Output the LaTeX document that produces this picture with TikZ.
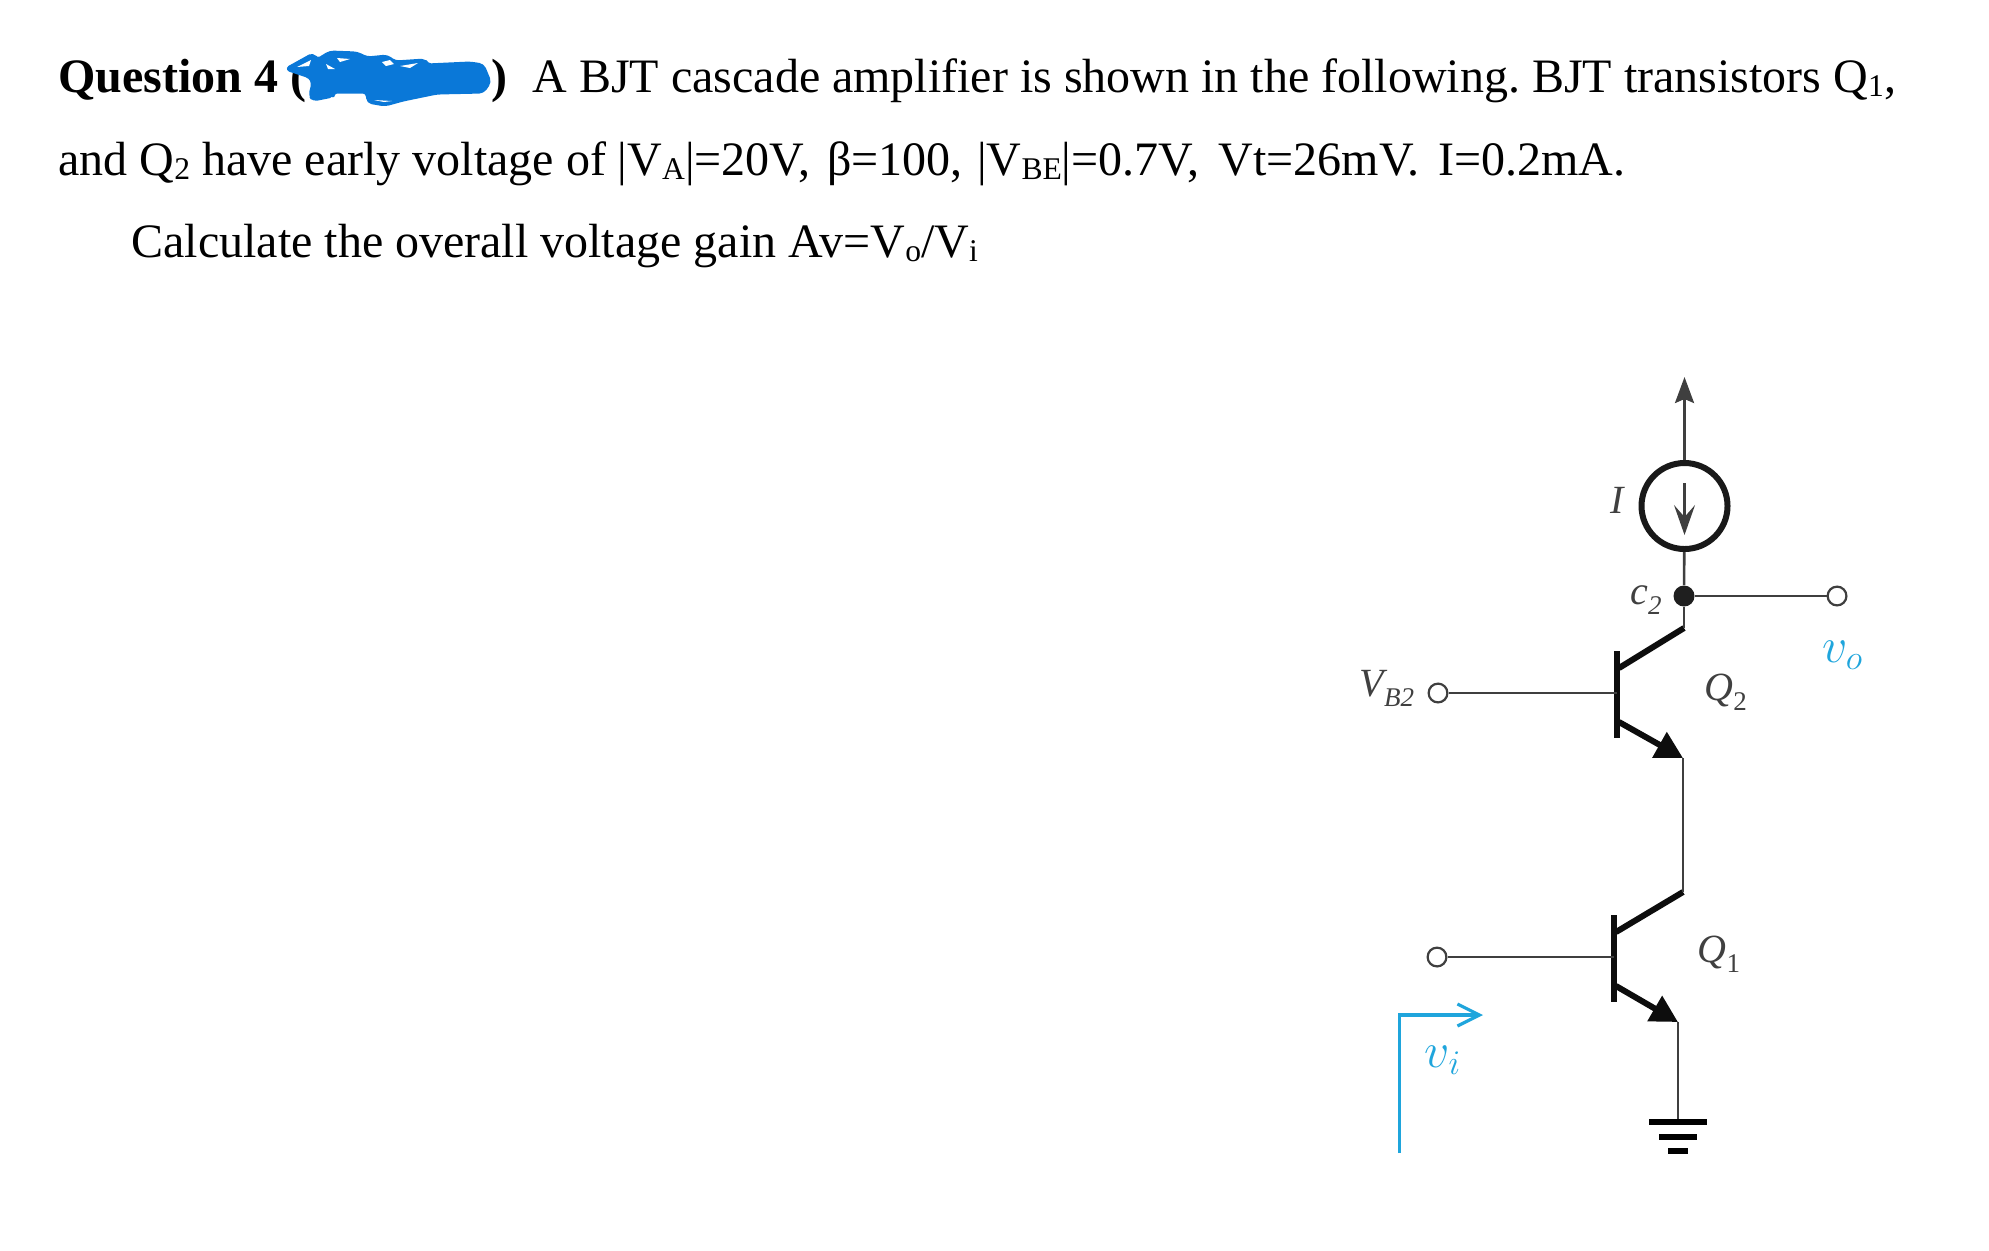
\documentclass[tikz,border=0pt]{standalone}
\usepackage{fontspec}
\setmainfont{Liberation Serif}
\usetikzlibrary{arrows.meta, positioning}
\definecolor{wirecol}{HTML}{3F3F3F}
\definecolor{signalblue}{HTML}{1FA5DC}
\definecolor{inkblue}{HTML}{0A78D8}
\newcommand{\tsub}[1]{\raisebox{-2.4pt}{\fontsize{15.8}{16}\selectfont #1}}
\newcommand{\lsub}[1]{\raisebox{-5pt}{\fontsize{13.5}{14}\selectfont #1}}
\frenchspacing
\tikzset{
  textline/.style={anchor=base west,inner sep=0pt,font=\fontsize{24}{26}\selectfont},
  wire/.style={draw=wirecol,line width=1.3pt},
  heavy/.style={draw=black!95,line width=3pt},
  terminal/.style={circle,draw=wirecol,fill=white,line width=1.1pt,minimum size=9.4pt,inner sep=0pt},
  dot/.style={circle,fill=black!88,minimum size=10.5pt,inner sep=0pt},
  source/.style={circle,draw=black!90,line width=3pt,minimum size=43pt,inner sep=0pt},
  partlabel/.style={inner sep=0pt,text=black!75,font=\fontsize{20}{22}\selectfont\itshape},
  signal/.style={inner sep=0pt,text=signalblue,font=\fontsize{24}{26}\selectfont},
  groundbar/.style={draw=black,line width=3pt}
}
\begin{document}
\begin{tikzpicture}[x=0.5pt,y=-0.5pt]
\useasboundingbox (0,0) rectangle (1989,1250);
% question text
\node[textline,font=\fontsize{24}{26}\selectfont\bfseries] (Head) at (58,92) {Question 4 (};
\node[textline,anchor=base east,font=\fontsize{24}{26}\selectfont\bfseries] (HeadEnd) at (508,92) {)};
\node[textline] (Line-1) at (532,92) {A BJT cascade amplifier is shown in the following. BJT transistors Q\tsub{1},};
\node[textline] (Line-2) at (58,175) {and Q\tsub{2} have early voltage of |V\tsub{A}|=20V,\hspace{2.5pt} β=100,\hspace{1.3pt} |V\tsub{BE}|=0.7V,\hspace{3.8pt} Vt=26mV.\hspace{3.5pt} I=0.2mA.};
\node[textline] (Line-3) at (131,257) {Calculate the overall voltage gain Av=V\tsub{o}/V\tsub{i}};
% scribble over the name
\fill[inkblue,draw=inkblue,line width=1.5pt,line join=round,rounded corners=2pt] (286,69) -- (313,54) -- (317,60) -- (330,52) -- (357,53) -- (367,58) -- (387,56) -- (395,62) -- (425,60) -- (427,65) -- (470,63) -- (483,65) -- (490,82) -- (483,92) -- (437,93) -- (403,100) -- (385,105) -- (368,102) -- (367,92) -- (333,92) -- (333,96) -- (313,100) -- (310,95) -- (313,83) -- (310,77) -- cycle;
\fill[white] (297,67) -- (311,60) -- (309,66) -- cycle;
\fill[white] (337,58) -- (350,59) -- (340,62) -- cycle;
\fill[white] (382,62) -- (390,60) -- (394,64) -- (386,66) -- cycle;
\fill[white] (400,66) -- (418,63) -- (410,68) -- cycle;
\fill[white] (326,64) -- (335,69) -- (328,69) -- cycle;
\fill[white] (374,100) -- (392,101) -- (384,102) -- cycle;
% transistors, lower one first
\foreach \Y/\bx/\by/\cx/\ex in {1/1614/957/1683/1678, 2/1617/693/1684/1683}
{
\coordinate (B-\Y) at (\bx,\by);
\coordinate (C-\Y) at (\cx,\by-65);
\coordinate (E-\Y) at (\ex,\by+65);
\draw[heavy] (\bx,\by-42) -- (\bx,\by+45);
\draw[heavy] (\bx+2,\by-25) -- (C-\Y);
\draw[heavy,-{Triangle[length=13.5pt,width=14pt]}] (\bx+2,\by+29) -- (E-\Y);
}
\node[terminal] (VB) at (1438,693) {};
\node[terminal] (VI) at (1437,957) {};
\node[source] (Src) at (1684.5,506) {};
\node[dot] (C2) at (1684,596) {};
\node[terminal] (VO) at (1837,596) {};
\coordinate (Rail) at (1684.5,377);
\coordinate (Gnd) at (1678,1122);
\draw[wire] (VB) -- (B-2);
\draw[wire] (VI) -- (B-1);
\draw[wire,-{Stealth[length=13pt,width=9.5pt,inset=2pt]}] (Src) -- (Rail);
\draw[wire] (Src) -- (C2);
\draw[wire] (C2) -- (C-2);
\draw[wire] (C2) -- (VO);
\draw[wire] (E-2) -- (C-1);
\draw[wire] (E-1) -- (Gnd);
\draw[wire,-{Stealth[length=15pt,width=10.5pt,inset=6pt]}] ([yshift=11.5pt]Src.center) -- ([yshift=-14.5pt]Src.center);
% ground
\foreach \W/\H in {29/1122, 19/1137, 10/1151}
\draw[groundbar] (1678-\W,\H) -- (1678+\W,\H);
% input arrow
\coordinate (InA) at (1399.5,1153);
\coordinate (InB) at (1399.5,1015);
\coordinate (InC) at (1483,1015);
\draw[signalblue,line width=1.6pt,-{Straight Barb[length=11pt,width=11pt]}] (InA) -- (InB) -- (InC);
% labels
\node[partlabel] (LabI) at (1617,500) {I};
\node[partlabel] (LabC) at (1646,600) {c\lsub{\itshape 2}};
\node[partlabel] (LabV) at (1387,688) {V\lsub{\itshape B2}};
\node[partlabel] (LabQ2) at (1725.6,692) {Q\lsub{\upshape 2}};
\node[partlabel] (LabQ1) at (1719,954) {Q\lsub{\upshape 1}};
\node[signal] (LabO) at (1842.7,655) {$v_o$};
\node[signal] (LabIn) at (1443,1060) {$v_i$};
\end{tikzpicture}
\end{document}
